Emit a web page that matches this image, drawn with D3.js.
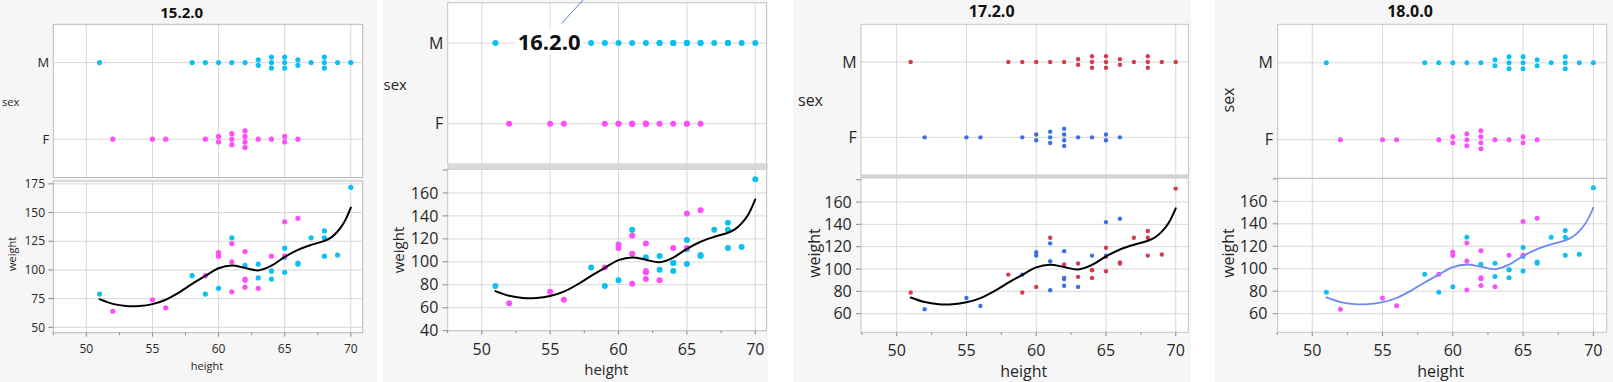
<!DOCTYPE html>
<html><head><meta charset="utf-8">
<script src="https://cdn.jsdelivr.net/npm/d3@7"></script>
<style>
html,body{margin:0;padding:0;background:#fff;}
svg{display:block;font-family:"Open Sans","Noto Sans",sans-serif;}
</style></head><body>
<svg id="chart" width="1613" height="382"></svg>
<script>
// ---------- data (Big Class) ----------
const sexCategories = ["M", "F"];
const sexes = ["F","F","F","F","F","M","M","M","F","F","F","M","M","M","M","F","F","F","F","F",
               "M","M","M","M","M","M","M","F","F","M","M","M","M","M","F","F","M","F","M","M"];
const heights = [59,61,55,66,52,60,61,51,60,61,56,65,63,58,59,61,62,65,63,62,
                 63,64,65,64,68,64,69,62,64,67,65,66,62,66,65,60,68,62,68,70];
const weights = [95,123,74,145,64,84,128,79,112,107,67,98,105,95,79,81,91,142,84,85,
                 93,99,119,92,112,99,113,92,112,128,111,105,104,106,112,115,128,116,134,172];
// smoother
const fitHeights = [51,52,53,54,55,56,57,58,59,60,61,62,63,64,65,66,67,68,68.5,69,69.5,70];
const fitWeights = [74.5,70.4,68.5,68.5,70.2,74.0,80.3,87.8,94.8,101.5,103.8,101.8,99.6,103.7,111.3,117.5,121.8,125.3,128.2,133.5,141.5,154.3];
const heightTicks = [50,55,60,65,70];
const heightMinorTicks = [47.5,52.5,57.5,62.5,67.5];
const weightTicksA = [50,75,100,125,150,175];
const weightTicksB = [40,60,80,100,120,140,160];
const weightTicksC = [60,80,100,120,140,160];
const versionLabels = ["15.2.0","16.2.0","17.2.0","18.0.0"];

const cyan = "#0dc0f2", magenta = "#fd4ff7", red = "#d63b4f", blue = "#3c6fe0";

const panels = [
  { bg:[0,377], title:{x:181.7,y:18,size:15}, top:[53.3,362.7,24.3,177.5], bottom:[53.3,362.7,181,332.7],
    xDom:[47.5,70.9], yDom:[45.3,177.5], yTicks:weightTicksA, extraY:[], tickFont:12, labelFont:11, catFont:13,
    sexLabel:{x:2,y:102,rot:false}, weightLabel:{x:12.5,y:254}, heightLabel:{x:207,y:366},
    xTickY:348.3, yTickRight:45, catRight:49.3, r:2.6, step:5.5, stack:true, colors:{M:cyan,F:magenta},
    curveColor:"#000", curveWidth:2, frame:"#b9b9b9" },
  { bg:[383,768], title:null, top:[447.7,766.5,2.7,164], bottom:[447.7,766.5,169.3,330.7],
    xDom:[47.51,70.82], yDom:[40,180.6], yTicks:weightTicksB, extraY:[180], tickFont:16, labelFont:15, catFont:16,
    sexLabel:{x:383.5,y:84.3,rot:false}, weightLabel:{x:399,y:250}, heightLabel:{x:606.3,y:370},
    xTickY:349, yTickRight:438.3, catRight:443.3, r:3, step:0, stack:false, colors:{M:cyan,F:magenta},
    curveColor:"#000", curveWidth:2, frame:"#c4c4c4", divider:[164,169.3,"#d9d9d9"] },
  { bg:[793,1191], title:{x:991.7,y:17,size:16}, top:[861,1188.3,24.3,175], bottom:[861,1188.3,178,332.3],
    xDom:[47.44,70.9], yDom:[43.35,181.5], yTicks:weightTicksC, extraY:[180], tickFont:16, labelFont:16, catFont:16,
    sexLabel:{x:798,y:100,rot:false}, weightLabel:{x:814,y:253}, heightLabel:{x:1023.8,y:371.7},
    xTickY:350, yTickRight:851.7, catRight:856.7, r:2.2, step:5.7, stack:true, colors:{M:red,F:blue},
    curveColor:"#000", curveWidth:2, frame:"#c4c4c4", divider:[175,178,"#d2d2d2"] },
  { bg:[1215,1613], title:{x:1410,y:17,size:16}, top:[1277.7,1606.7,24.3,178.3], bottom:[1277.7,1606.7,178.3,332.3],
    xDom:[47.54,70.95], yDom:[43.44,180.5], yTicks:weightTicksC, extraY:[180], tickFont:16, labelFont:16, catFont:16,
    sexLabel:{x:1228,y:100,rot:true}, weightLabel:{x:1228,y:253}, heightLabel:{x:1440.8,y:371.7},
    xTickY:350.7, yTickRight:1267.3, catRight:1273, r:2.5, step:6, stack:true, colors:{M:cyan,F:magenta},
    curveColor:"#6d8af2", curveWidth:1.8, frame:"#c4c4c4" }
];

const svg = d3.select("#chart");
const textCol = "#262626", gridCol = "#d8d8d8", tickCol = "#8a8a8a";

panels.forEach((p, pi) => {
  const g = svg.append("g");
  g.append("rect").attr("x", p.bg[0]).attr("y", 0).attr("width", p.bg[1]-p.bg[0]).attr("height", 382).attr("fill", "#f6f6f6");

  const [tx0, tx1, ty0, ty1] = p.top;
  const [bx0, bx1, by0, by1] = p.bottom;
  const xT = d3.scaleLinear().domain(p.xDom).range([tx0, tx1]);
  const xB = d3.scaleLinear().domain(p.xDom).range([bx0, bx1]);
  const yCat = d3.scalePoint().domain(sexCategories).range([ty0, ty1]).padding(0.5);
  const yW = d3.scaleLinear().domain(p.yDom).range([by1, by0]);

  // plot areas
  g.append("rect").attr("x", tx0).attr("y", ty0).attr("width", tx1-tx0).attr("height", ty1-ty0).attr("fill", "#fff");
  g.append("rect").attr("x", bx0).attr("y", by0).attr("width", bx1-bx0).attr("height", by1-by0).attr("fill", "#fff");

  // grid top
  g.append("g").selectAll("line").data(heightTicks).join("line")
    .attr("x1", d => xT(d)).attr("x2", d => xT(d)).attr("y1", ty0).attr("y2", ty1)
    .attr("stroke", gridCol).attr("stroke-width", 1);
  g.append("g").selectAll("line").data(sexCategories).join("line")
    .attr("x1", tx0).attr("x2", tx1).attr("y1", d => yCat(d)).attr("y2", d => yCat(d))
    .attr("stroke", gridCol).attr("stroke-width", 1);
  // grid bottom
  g.append("g").selectAll("line").data(heightTicks).join("line")
    .attr("x1", d => xB(d)).attr("x2", d => xB(d)).attr("y1", by0).attr("y2", by1)
    .attr("stroke", gridCol).attr("stroke-width", 1);
  g.append("g").selectAll("line").data(p.yTicks).join("line")
    .attr("x1", bx0).attr("x2", bx1).attr("y1", d => yW(d)).attr("y2", d => yW(d))
    .attr("stroke", gridCol).attr("stroke-width", 1);

  // frames
  g.append("rect").attr("x", tx0).attr("y", ty0).attr("width", tx1-tx0).attr("height", ty1-ty0)
    .attr("fill", "none").attr("stroke", p.frame);
  g.append("rect").attr("x", bx0).attr("y", by0).attr("width", bx1-bx0).attr("height", by1-by0)
    .attr("fill", "none").attr("stroke", p.frame);
  if (p.divider) {
    const right = pi === 1 ? p.bg[1] : tx1 + 0.5;
    g.append("rect").attr("x", tx0 - 0.5).attr("y", p.divider[0]).attr("width", right - tx0 + 0.5)
      .attr("height", p.divider[1]-p.divider[0]).attr("fill", p.divider[2]);
  }

  // dot plot (top)
  const counts = {};
  const idx = {};
  heights.forEach((h, i) => { const k = sexes[i] + h; counts[k] = (counts[k] || 0) + 1; });
  const dotData = heights.map((h, i) => {
    const k = sexes[i] + h;
    idx[k] = (idx[k] || 0);
    const off = p.stack ? (idx[k] - (counts[k]-1)/2) * p.step : 0;
    idx[k]++;
    return {h, s: sexes[i], off};
  });
  g.append("g").selectAll("circle").data(dotData).join("circle")
    .attr("cx", d => xT(d.h)).attr("cy", d => yCat(d.s) + d.off).attr("r", p.r)
    .attr("fill", d => p.colors[d.s]);

  // scatter (bottom)
  g.append("g").selectAll("circle").data(heights.map((h, i) => ({h, w: weights[i], s: sexes[i]}))).join("circle")
    .attr("cx", d => xB(d.h)).attr("cy", d => yW(d.w)).attr("r", p.r)
    .attr("fill", d => p.colors[d.s]);

  // smoother
  const line = d3.line().x(d => xB(d[0])).y(d => yW(d[1])).curve(d3.curveCatmullRom.alpha(0.5));
  g.append("path").datum(fitHeights.map((h, i) => [h, fitWeights[i]])).attr("d", line)
    .attr("fill", "none").attr("stroke", p.curveColor).attr("stroke-width", p.curveWidth)
    .attr("stroke-linejoin", "round").attr("stroke-linecap", "round");

  // x axis ticks
  g.append("g").selectAll("line").data(heightTicks).join("line")
    .attr("x1", d => xB(d)).attr("x2", d => xB(d)).attr("y1", by1).attr("y2", by1 + 4)
    .attr("stroke", tickCol);
  g.append("g").selectAll("line").data(heightMinorTicks).join("line")
    .attr("x1", d => xB(d)).attr("x2", d => xB(d)).attr("y1", by1).attr("y2", by1 + 2.5)
    .attr("stroke", tickCol);
  g.append("g").selectAll("text").data(heightTicks).join("text")
    .attr("x", d => xB(d)).attr("y", p.xTickY).attr("dy", "0.35em")
    .attr("text-anchor", "middle").attr("font-size", p.tickFont).attr("fill", textCol).text(d => d);

  // y axis ticks
  g.append("g").selectAll("line").data(p.yTicks.concat(p.extraY)).join("line")
    .attr("x1", bx0 - 5).attr("x2", bx0).attr("y1", d => yW(d)).attr("y2", d => yW(d))
    .attr("stroke", tickCol);
  g.append("g").selectAll("text").data(p.yTicks).join("text")
    .attr("x", p.yTickRight).attr("y", d => yW(d)).attr("dy", "0.35em")
    .attr("text-anchor", "end").attr("font-size", p.tickFont).attr("fill", textCol).text(d => d);

  // category labels
  g.append("g").selectAll("text").data(sexCategories).join("text")
    .attr("x", p.catRight).attr("y", d => yCat(d)).attr("dy", "0.35em")
    .attr("text-anchor", "end").attr("font-size", p.catFont).attr("fill", textCol).text(d => d);

  // axis titles
  if (p.sexLabel.rot) {
    g.append("text").attr("transform", `translate(${p.sexLabel.x},${p.sexLabel.y}) rotate(-90)`)
      .attr("dy", "0.35em").attr("text-anchor", "middle").attr("font-size", p.labelFont).attr("fill", textCol).text("sex");
  } else {
    g.append("text").attr("x", p.sexLabel.x).attr("y", p.sexLabel.y).attr("dy", "0.35em")
      .attr("text-anchor", "start").attr("font-size", p.labelFont).attr("fill", textCol).text("sex");
  }
  g.append("text").attr("transform", `translate(${p.weightLabel.x},${p.weightLabel.y}) rotate(-90)`)
    .attr("dy", "0.35em").attr("text-anchor", "middle").attr("font-size", p.labelFont).attr("fill", textCol).text("weight");
  g.append("text").attr("x", p.heightLabel.x).attr("y", p.heightLabel.y).attr("dy", "0.35em")
    .attr("text-anchor", "middle").attr("font-size", p.labelFont).attr("fill", textCol).text("height");

  // title
  if (p.title) {
    g.append("text").attr("x", p.title.x).attr("y", p.title.y).attr("text-anchor", "middle")
      .attr("font-size", p.title.size).attr("font-weight", "bold").attr("fill", "#111").text(versionLabels[pi]);
  } else {
    // callout annotation
    g.append("line").attr("x1", 561.7).attr("y1", 23.3).attr("x2", 584).attr("y2", -1)
      .attr("stroke", "#5b7dc8").attr("stroke-width", 1);
    const box = g.append("rect").attr("fill", "#fff");
    const t = g.append("text").attr("x", 517.7).attr("y", 50).attr("font-size", 22)
      .attr("font-weight", "bold").attr("fill", "#111").text(versionLabels[pi]);
    const bb = t.node().getBBox();
    box.attr("x", bb.x - 3).attr("y", bb.y + 3).attr("width", bb.width + 6).attr("height", bb.height - 4);
  }
});
</script>
</body></html>
